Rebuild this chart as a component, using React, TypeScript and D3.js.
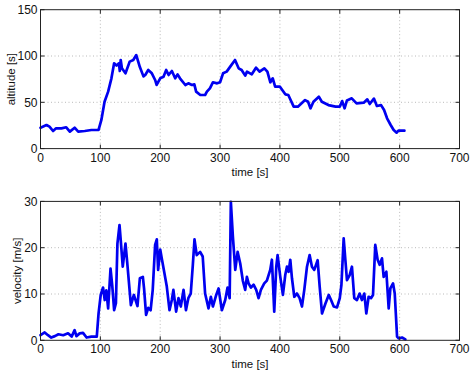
import React from "react";
import * as d3 from "d3";

// altitude vs time
const altTime = [0, 10, 15, 21, 26, 35, 43, 49, 57, 63, 74, 85, 97, 101.7, 107, 113, 118.5, 123, 127, 131, 132.5, 134, 136, 142, 149, 155, 160, 166, 172, 175, 180, 186, 191.5, 194, 200, 205.5, 210, 214, 219.5, 225, 229, 233, 242, 247, 253, 257, 260, 267, 275, 278, 283, 288, 295, 300, 305, 311, 317, 325, 331, 336, 342, 345, 353, 360, 366, 374, 379, 384, 388, 392, 400, 409, 414, 423, 430, 434, 442, 447, 451, 456, 465, 470, 481, 493, 500, 504, 508, 512, 520, 528, 540, 546, 550, 557, 562, 569, 574, 579, 585, 590, 595, 598, 608];
const altValue = [22.6, 25.5, 23.7, 19, 21.9, 21.9, 23, 18.3, 22.6, 18.3, 19, 20.1, 20.1, 30.9, 50.6, 61.5, 75.9, 92.1, 89.6, 92.1, 83.8, 95.7, 86.7, 81.3, 93.9, 95.7, 101, 88, 78, 79.5, 84.9, 81.3, 74.1, 68.7, 75.9, 77.6, 84.9, 79.5, 83.8, 75.9, 80.2, 75.9, 68.7, 70.5, 68.7, 69.4, 61.5, 57.9, 57.9, 61.5, 65.1, 71.6, 70.5, 71.6, 81.3, 83.1, 88.5, 95.7, 86.7, 84.9, 78.8, 83.1, 80.2, 87.4, 83.1, 86.7, 83.1, 71.6, 75.9, 66.9, 66.9, 58.6, 57.9, 45.3, 45.3, 47.7, 52.4, 50.6, 43.5, 50.6, 56.1, 50.6, 47, 45.3, 45.3, 51.3, 43.5, 52, 54.3, 48.9, 49.6, 53.2, 48.2, 54, 46, 47, 41.7, 32.7, 25.5, 20.1, 17.2, 19.4, 19.4];

// velocity vs time
const velTime = [0, 7, 12.5, 18, 24, 30, 38, 46, 52, 57, 60, 65.5, 71, 77, 85, 94, 97, 100.6, 104.5, 107.3, 110, 113, 117, 120, 123, 126, 128.5, 132, 134, 137.4, 142, 145, 151, 156, 162, 166, 171, 173, 176.4, 180, 184, 187.5, 191.5, 194.3, 196.5, 200, 203, 206.6, 211, 215.5, 219.4, 222, 226.6, 230.5, 234.4, 239, 243, 247, 251, 254.5, 257.3, 261, 266.7, 271, 275, 280.7, 284.6, 288, 293.6, 297.5, 303, 308.6, 312.5, 316, 318, 321.4, 325.4, 329.3, 333.7, 338, 342, 344.8, 347.6, 351.5, 356, 360.4, 364.3, 368.2, 373.8, 378.2, 383.8, 386.6, 390.5, 393.9, 396.1, 400.6, 405, 408.9, 411.7, 414.5, 417.3, 420.1, 424, 428.4, 432.9, 436.8, 440.7, 445.2, 449.6, 453.5, 457.4, 463, 466.4, 470.3, 475.9, 481.5, 485.4, 489.9, 495.4, 500, 502.7, 506.5, 509.3, 512, 516.5, 520.3, 524.2, 528.7, 533.1, 537, 541, 544.3, 548.2, 552.1, 555.5, 559.3, 563.2, 566.6, 570.5, 573.3, 577.8, 581.7, 584.5, 589, 591.8, 595.7, 598.4, 604, 609.6];
const velValue = [1.1, 1.7, 1.1, 0.6, 0.9, 1.3, 1.1, 1.5, 0.8, 2.2, 0.9, 1.5, 1.6, 0.6, 0.8, 0.8, 5.8, 9.8, 11.4, 8.7, 10.8, 6.9, 15.5, 11.6, 6.5, 8, 20.9, 24.9, 21.7, 15.9, 20.9, 16.6, 7.6, 9.8, 7.4, 13.4, 13.7, 11.2, 5.5, 7, 6.5, 10.9, 20.6, 21.8, 15.2, 19.6, 17.4, 14.8, 11.6, 6.5, 8.7, 10.9, 6.2, 9.1, 7.3, 10.9, 6.5, 9.1, 10.1, 16.3, 21.8, 18.4, 19.1, 18.1, 10.1, 6.9, 9.4, 7.3, 9.8, 11.2, 6.5, 8.7, 11.4, 9.1, 29.9, 22.4, 15.2, 19.1, 16.6, 12.9, 10.9, 13.7, 12.3, 11.4, 12, 10.9, 9.1, 10.9, 12.3, 12.9, 15.2, 17.4, 6.2, 15.9, 18.4, 13.7, 9.8, 14.1, 15.9, 14.8, 17.4, 13.4, 9.4, 10.1, 9.1, 7.3, 10.9, 15.9, 18.4, 15.9, 15.2, 17.3, 11.6, 5.8, 7.9, 9.8, 8.7, 7.3, 7.1, 9.1, 11.9, 22, 17.4, 13, 14.1, 15.9, 9.1, 8.7, 10.1, 8.7, 10.1, 5.8, 9.4, 9.1, 9.8, 20.6, 17.4, 16.3, 17.7, 13.7, 14.8, 6.9, 11.2, 12.3, 10.1, 0.8, 0.4, 0.6, 0.2];

const xTicks = [0, 100, 200, 300, 400, 500, 600, 700];
const altTicks = [0, 50, 100, 150];
const velTicks = [0, 10, 20, 30];

const W = 474;
const H = 370;
const FONT = "'Liberation Sans', Arial, Helvetica, sans-serif";

function Panel({ top, bottom, times, values, yMax, yTicks, yLabel, yLabelX }) {
  const x = d3.scaleLinear().domain([0, 700]).range([40.5, 459.5]);
  const y = d3.scaleLinear().domain([0, yMax]).range([bottom, top]);
  const line = d3.line<number>()
    .x((_, i) => x(times[i]))
    .y(d => y(d));
  const left = x(0), right = x(700);
  const tk = 4;
  return (
    <g>
      <rect x={left} y={top} width={right - left} height={bottom - top} fill="#fff" />
      {/* grid */}
      {xTicks.slice(1, -1).map(t => (
        <line key={"gx" + t} x1={x(t)} x2={x(t)} y1={top} y2={bottom}
          stroke="#a8a8a8" strokeWidth={0.8} strokeDasharray="1,2.5" />
      ))}
      {yTicks.slice(1, -1).map(t => (
        <line key={"gy" + t} x1={left} x2={right} y1={y(t)} y2={y(t)}
          stroke="#a8a8a8" strokeWidth={0.8} strokeDasharray="1,2.5" />
      ))}
      {/* data */}
      <path d={line(values) || ""} fill="none" stroke="#0000f0" strokeWidth={2.7}
        strokeLinejoin="round" strokeLinecap="round" />
      {/* box */}
      <rect x={left} y={top} width={right - left} height={bottom - top}
        fill="none" stroke="#222" strokeWidth={1} />
      {/* ticks inside, all sides */}
      {xTicks.map(t => (
        <g key={"tx" + t} stroke="#222" strokeWidth={1}>
          <line x1={x(t)} x2={x(t)} y1={bottom} y2={bottom - tk} />
          <line x1={x(t)} x2={x(t)} y1={top} y2={top + tk} />
        </g>
      ))}
      {yTicks.map(t => (
        <g key={"ty" + t} stroke="#222" strokeWidth={1}>
          <line x1={left} x2={left + tk} y1={y(t)} y2={y(t)} />
          <line x1={right} x2={right - tk} y1={y(t)} y2={y(t)} />
        </g>
      ))}
      {/* tick labels */}
      {xTicks.map(t => (
        <text key={"lx" + t} x={x(t)} y={bottom + 13} textAnchor="middle"
          fontFamily={FONT} fontSize={12} fill="#111">{t}</text>
      ))}
      {yTicks.map(t => (
        <text key={"ly" + t} x={left - 3} y={y(t)} dy="0.35em" textAnchor="end"
          fontFamily={FONT} fontSize={12} fill="#111">{t}</text>
      ))}
      <text x={(left + right) / 2} y={bottom + 27.5} textAnchor="middle"
        fontFamily={FONT} fontSize={11.5} fill="#111">time [s]</text>
      <text transform={`translate(${yLabelX},${(top + bottom) / 2}) rotate(-90)`}
        textAnchor="middle" fontFamily={FONT} fontSize={11.5} fill="#111">{yLabel}</text>
    </g>
  );
}

export default function App() {
  return (
    <svg width={W} height={H} viewBox={`0 0 ${W} ${H}`}
      style={{ position: "absolute", left: 0, top: 0, display: "block", background: "#fff" }}>
      <rect width={W} height={H} fill="#fff" />
      <Panel top={9.7} bottom={148.6} times={altTime} values={altValue} yMax={150}
        yTicks={altTicks} yLabel="altitude [s]" yLabelX={14.5} />
      <Panel top={201.4} bottom={340.3} times={velTime} values={velValue} yMax={30}
        yTicks={velTicks} yLabel="velocity [m/s]" yLabelX={20.5} />
    </svg>
  );
}
